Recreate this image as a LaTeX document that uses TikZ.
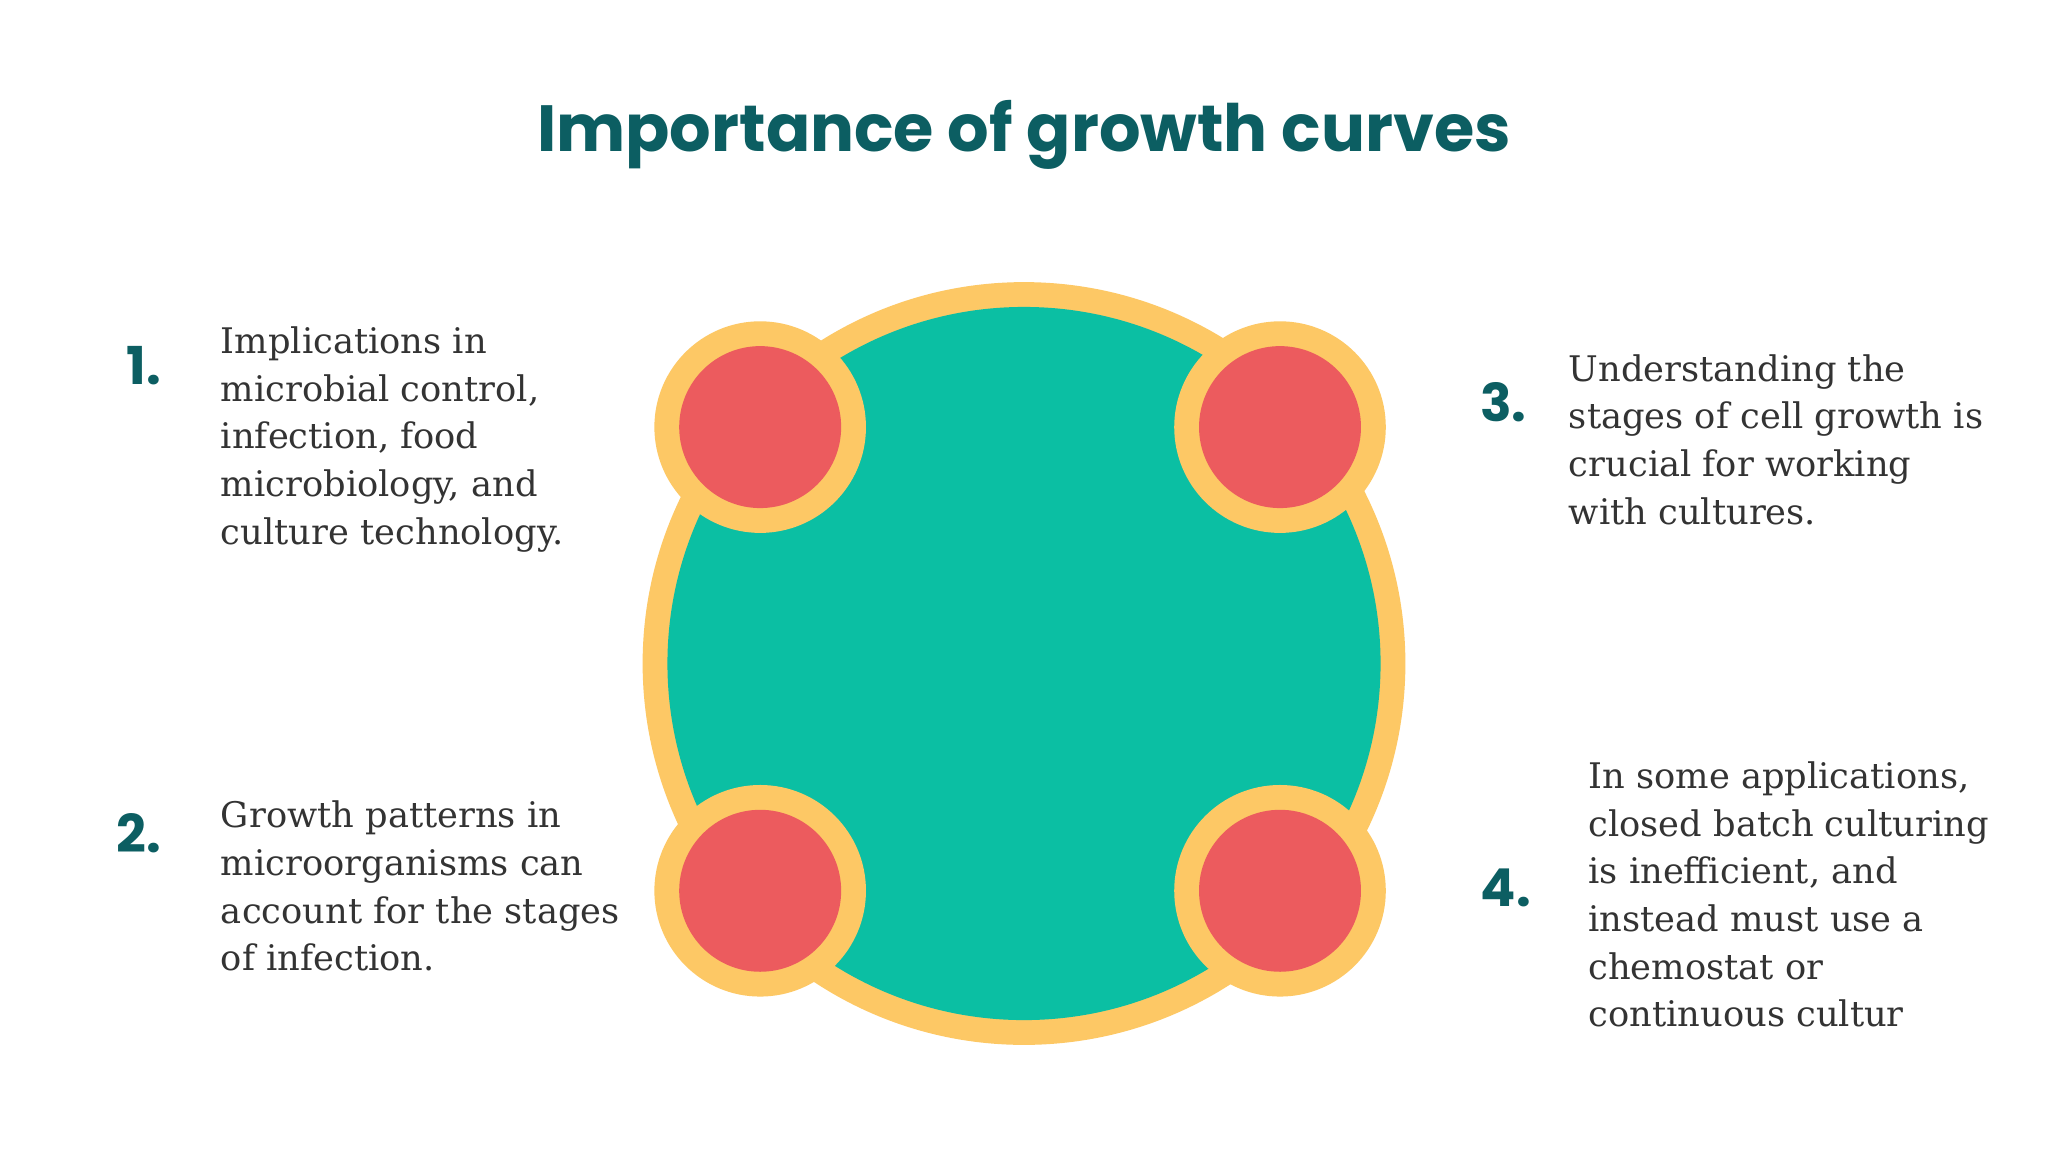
\documentclass[tikz,border=0pt]{standalone}
\usepackage{fontspec}
\setmainfont{DejaVu Serif}
\newfontfamily\numfont{Poppins}
\definecolor{ring}{HTML}{FDC865}
\definecolor{disc}{HTML}{0BBFA3}
\definecolor{dot}{HTML}{EC5B5E}
\definecolor{teal}{HTML}{0C5E62}
\definecolor{body}{HTML}{333333}
\tikzset{
 body/.style={anchor=north west,align=left,text=body,inner sep=0pt,font=\fontsize{27}{36.5}\selectfont},
 num/.style={text=teal,font=\numfont\bfseries\fontsize{40}{40}\selectfont},
}
\begin{document}
\begin{tikzpicture}[x=1pt,y=1pt]
\useasboundingbox[fill=white] (0,0) rectangle (1568,-882);
\node[text=teal,font=\numfont\bfseries\fontsize{50}{50}\selectfont] (title) at (784,-103) {Importance of growth curves};
\fill[ring] (784,-508) circle (292);
\fill[disc] (784,-508) circle (273);
\foreach \n/\x/\y in {a/582/327,b/980/327,c/582/682,d/980/682}{
 \fill[ring] (\x,-\y) circle (81);
 \fill[dot] (\x,-\y) circle (62);
}
\node[num] (n1) at (110,-280) {1.};
\node[num] (n2) at (106,-638) {2.};
\node[num] (n3) at (1151,-308) {3.};
\node[num] (n4) at (1153,-680) {4.};
\node[body] (t1) at (169,-250) {Implications in\\microbial control,\\infection, food\\microbiology, and\\culture technology.};
\node[body] (t2) at (169,-613) {Growth patterns in\\microorganisms can\\account for the stages\\of infection.};
\node[body] (t3) at (1201,-271) {Understanding the\\stages of cell growth is\\crucial for working\\with cultures.};
\node[body] (t4) at (1216,-583) {In some applications,\\closed batch culturing\\is inefficient, and\\instead must use a\\chemostat or\\continuous cultur};
\end{tikzpicture}
\end{document}
